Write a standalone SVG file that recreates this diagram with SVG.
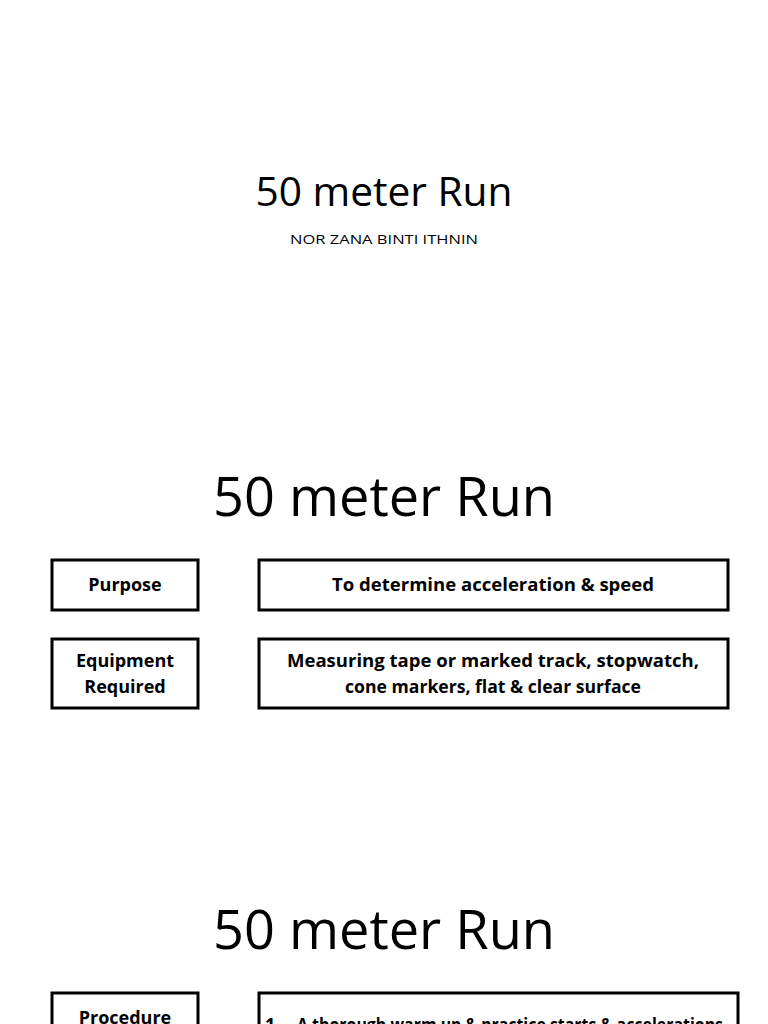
<svg xmlns="http://www.w3.org/2000/svg" width="768" height="1024" viewBox="0 0 768 1024">
<style>
text{font-family:"Open Sans","Liberation Sans",sans-serif;fill:#000;text-anchor:middle}
.b{font-weight:bold;font-size:18px}
.s{text-anchor:start}
.box{fill:#fff;stroke:#000;stroke-width:3}
</style>
<rect width="768" height="1024" fill="#fff"/>
<text x="384" y="206" font-size="40" textLength="257" lengthAdjust="spacingAndGlyphs">50 meter Run</text>
<text x="384" y="244" font-size="13" textLength="188" lengthAdjust="spacingAndGlyphs">NOR ZANA BINTI ITHNIN</text>
<text x="384" y="516" font-size="54" textLength="342" lengthAdjust="spacingAndGlyphs">50 meter Run</text>
<g id="purpose"><rect class="box" x="52" y="560" width="146" height="50"/><text class="b" x="125" y="591">Purpose</text></g>
<g id="purpose-desc"><rect class="box" x="259" y="560" width="469" height="50"/><text class="b" x="493" y="591" textLength="322" lengthAdjust="spacingAndGlyphs">To determine acceleration &amp; speed</text></g>
<g id="equipment"><rect class="box" x="52" y="639" width="146" height="69"/><text class="b" x="125" y="667">Equipment</text><text class="b" x="125" y="693">Required</text></g>
<g id="equipment-desc"><rect class="box" x="259" y="639" width="469" height="69"/><text class="b" x="493" y="667" textLength="412" lengthAdjust="spacingAndGlyphs">Measuring tape or marked track, stopwatch,</text><text class="b" x="493" y="693" textLength="296" lengthAdjust="spacingAndGlyphs">cone markers, flat &amp; clear surface</text></g>
<text x="384" y="949" font-size="54" textLength="342" lengthAdjust="spacingAndGlyphs">50 meter Run</text>
<g id="procedure"><rect class="box" x="52" y="993" width="146" height="60"/><text class="b" x="125" y="1024">Procedure</text></g>
<g id="procedure-desc"><rect class="box" x="259" y="993" width="479" height="60"/><text class="b s" x="265" y="1031">1.</text><text class="b s" x="297" y="1031" textLength="426" lengthAdjust="spacingAndGlyphs">A thorough warm up &amp; practice starts &amp; accelerations</text></g>
<g id="connectors"/>
</svg>
